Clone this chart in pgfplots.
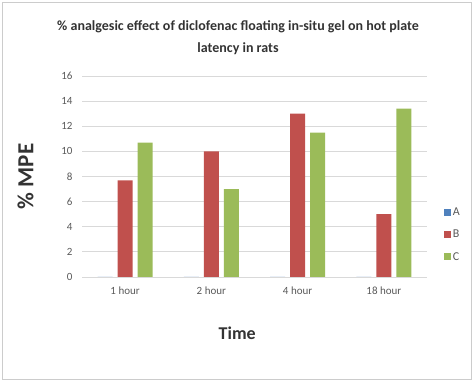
\documentclass[border=0pt]{standalone}
\usepackage{pgfplots}
\pgfplotsset{compat=1.18}
\usepackage{fontspec}
\setmainfont{Carlito}
\definecolor{cA}{HTML}{4F81BD}
\definecolor{cB}{HTML}{C0504D}
\definecolor{cC}{HTML}{9BBB59}
\definecolor{tickc}{HTML}{595959}
\definecolor{gridc}{HTML}{D9D9D9}
\begin{document}
\begin{tikzpicture}
\path (0pt,0pt) rectangle (474pt,382pt);
\draw[gray!40, line width=1pt] (2pt,2pt) rectangle (471pt,379pt);
\node[font=\bfseries\fontsize{14}{17}\selectfont, text=black!80, align=center] at (238pt,344pt) {\% analgesic effect of diclofenac floating in-situ gel on hot plate\\[5pt] latency in rats};
\begin{axis}[
  at={(82pt,105pt)}, anchor=south west,
  scale only axis, width=345pt, height=201pt,
  ymin=0, ymax=16, ytick={0,2,...,16},
  xmin=-0.5, xmax=3.5, xtick={0,1,2,3},
  xticklabels={1 hour,2 hour,4 hour,18 hour},
  ybar=5pt, bar width=15pt,
  axis line style={draw=none},
  axis x line*=bottom,
  ymajorgrids, grid style={gridc, line width=0.8pt},
  major tick length=0pt,
  tick label style={text=tickc, font=\fontsize{11}{13}\selectfont},
  /pgf/number format/assume math mode=true,
  xticklabel style={yshift=-6pt},
  yticklabel style={xshift=-6pt},
  ylabel={\% MPE}, ylabel style={font=\bfseries\fontsize{23}{27}\selectfont, text=black!80, at={(axis description cs:-0.13,0.5)}},
  xlabel={Time}, xlabel style={font=\bfseries\fontsize{18}{22}\selectfont, text=black!80, at={(axis description cs:0.45,-0.23)}},
  legend style={at={(1.04,0.21)}, anchor=west, draw=none, fill=none, font=\fontsize{12}{14}\selectfont, text=tickc, row sep=9pt, legend cell align=left},
  legend image code/.code={\fill[#1] (0pt,-3.5pt) rectangle (7pt,3.5pt);},
]
\addplot[fill=cA, draw=none] coordinates {(0,0) (1,0) (2,0) (3,0)};
\addplot[fill=cB, draw=none] coordinates {(0,7.7) (1,10.0) (2,13.0) (3,5.0)};
\addplot[fill=cC, draw=none] coordinates {(0,10.7) (1,7.0) (2,11.5) (3,13.4)};
\legend{A,B,C}
\end{axis}
\end{tikzpicture}
\end{document}
